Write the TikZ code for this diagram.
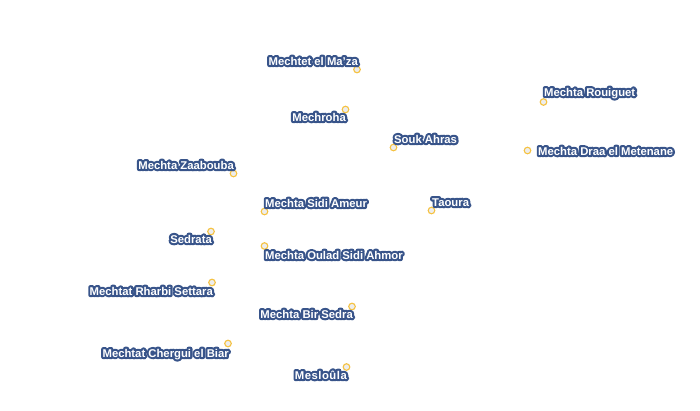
\documentclass[tikz,border=0pt]{standalone}
\usepackage{fontspec}
\setmainfont{Liberation Sans}
\definecolor{ring}{HTML}{F5C242}
\definecolor{ringfill}{HTML}{EDEDED}
\newcommand{\halotext}[1]{\leavevmode\rlap{\special{pdf:code q 1 Tr 4.4 w 1 j 1 J 0.22 0.33 0.54 RG}#1\special{pdf:code 0 Tr Q}}{\color{white}#1}}
\tikzset{
  place/.style={circle,draw=ring,fill=ringfill,line width=1.1pt,minimum size=6.6pt,inner sep=0pt},
  lab/.style={inner sep=0pt,font=\fontsize{11.3pt}{12pt}\selectfont\bfseries}
}
\begin{document}
\begin{tikzpicture}[x=1pt,y=-1pt]
\useasboundingbox (0,0) rectangle (700,410);
\node[place] (d1) at (357,69.5) {};
\node[place] (d2) at (345.5,109.5) {};
\node[place] (d3) at (393.5,147.5) {};
\node[place] (d4) at (543.5,102) {};
\node[place] (d5) at (527.5,150.5) {};
\node[place] (d6) at (233.5,173.5) {};
\node[place] (d7) at (264.5,211.5) {};
\node[place] (d8) at (431.5,210.5) {};
\node[place] (d9) at (211,231.5) {};
\node[place] (d10) at (264.5,246) {};
\node[place] (d11) at (212,282.5) {};
\node[place] (d12) at (352,306.5) {};
\node[place] (d13) at (228,343.5) {};
\node[place] (d14) at (346.5,367) {};
\node[lab,anchor=base east] (n1) at (358,65) {\halotext{Mechtet el Ma'za}};
\node[lab,anchor=base east] (n2) at (346,121) {\halotext{Mechroha}};
\node[lab,anchor=base west] (n3) at (394,143) {\halotext{Souk Ahras}};
\node[lab,anchor=base west] (n4) at (544,96) {\halotext{Mechta Rouiguet}};
\node[lab,anchor=base west] (n5) at (538,155) {\halotext{Mechta Draa el Metenane}};
\node[lab,anchor=base east] (n6) at (234,169) {\halotext{Mechta Zaabouba}};
\node[lab,anchor=base west] (n7) at (265,207) {\halotext{Mechta Sidi Ameur}};
\node[lab,anchor=base west] (n8) at (432,206) {\halotext{Taoura}};
\node[lab,anchor=base east] (n9) at (212,243) {\halotext{Sedrata}};
\node[lab,anchor=base west] (n10) at (265,259) {\halotext{Mechta Oulad Sidi Ahmor}};
\node[lab,anchor=base east] (n11) at (213,295) {\halotext{Mechtat Rharbi Settara}};
\node[lab,anchor=base east] (n12) at (353,318) {\halotext{Mechta Bir Sedra}};
\node[lab,anchor=base east] (n13) at (229,357) {\halotext{Mechtat Chergui el Biar}};
\node[lab,anchor=base east] (n14) at (347,379) {\addfontfeature{LetterSpace=4.4}\halotext{Mesloûla}};
\end{tikzpicture}
\end{document}
